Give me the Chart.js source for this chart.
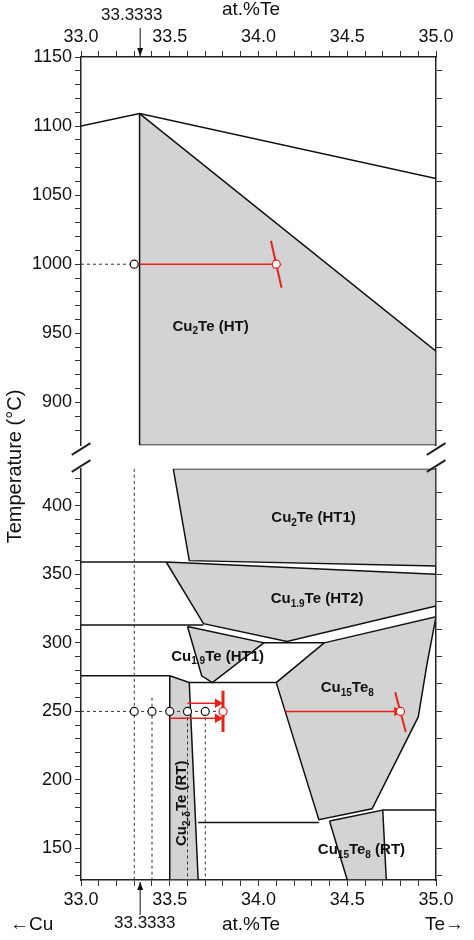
<!DOCTYPE html>
<html lang="en">
<head>
<meta charset="UTF-8">
<title>Cu-Te phase diagram</title>
<script src="https://cdn.jsdelivr.net/npm/chart.js"></script>
<style>
    body { margin: 0; background: #fff; font-family: 'Liberation Sans', Arial, sans-serif; }
    #wrap { position: relative; width: 474px; height: 940px; overflow: hidden; }
    canvas { position: absolute; left: 0; }
    #topChart { top: 0; }
    #botChart { top: 455px; }
    .txt { position: absolute; font-size: 18px; color: #111; white-space: nowrap; }
    .brk { position: absolute; width: 22px; height: 1.5px; background: #222; transform: rotate(-32deg); }
</style>
</head>
<body>
<div id="wrap">
    <canvas id="topChart" width="474" height="459"></canvas>
    <canvas id="botChart" width="474" height="485"></canvas>
    <div class="txt" style="left:222px;top:-2px;font-size:19px">at.%Te</div>
    <div class="txt" style="left:101px;top:5px;font-size:17px">33.3333</div>
    <div class="txt" style="left:10px;top:913px;font-size:19px">&larr;Cu</div>
    <div class="txt" style="left:114px;top:913px;font-size:17px">33.3333</div>
    <div class="txt" style="left:222px;top:913px;font-size:19px">at.%Te</div>
    <div class="txt" style="left:425px;top:913px;font-size:19px">Te&rarr;</div>
    <div class="txt" style="left:-62px;top:455px;font-size:20px;transform:rotate(-90deg)">Temperature (&deg;C)</div>
    <div class="brk" style="left:70px;top:448px"></div>
    <div class="brk" style="left:70px;top:465px"></div>
    <div class="brk" style="left:425px;top:448px"></div>
    <div class="brk" style="left:425px;top:465px"></div>
</div>
<script>
// ---- upper panel (high temperature) ----
const liquidus = [[33.0, 1100], [33.33, 1109], [35.0, 1062]];
const cu2teHT = [[33.33, 1109], [35.0, 937], [35.0, 869], [33.33, 869]];
const dash1000 = [[33.0, 1000], [33.3, 1000]];
const open1000 = [[33.3, 1000]];
const arrow1000 = [[33.33, 1000], [34.1, 1000]];
const red1000 = [[34.1, 1000]];
const tick1000 = [[34.07, 1017], [34.13, 983]];

// ---- lower panel (low temperature) ----
const cu2teHT1 = [[33.52, 427], [33.61, 360], [35.0, 356], [35.0, 427]];
const cu19teHT2 = [[33.48, 359], [35.0, 350], [35.0, 327], [34.16, 301], [33.69, 314]];
const cu19teHT1 = [[33.60, 312], [34.03, 300], [33.74, 271], [33.68, 276]];
const cu15te8 = [[34.37, 300], [35.0, 319], [34.95, 285], [34.90, 246], [34.64, 179], [34.34, 171], [34.10, 271]];
const cu2dTe = [[33.50, 276], [33.61, 271], [33.66, 127], [33.50, 127]];
const cu15te8RT = [[34.40, 170], [34.70, 178], [34.72, 127], [34.50, 127]];
const hLines = [
    [[33.0, 359], [33.48, 359]],
    [[33.0, 313], [33.69, 313]],
    [[33.0, 276], [33.50, 276]],
    [[33.61, 271], [34.10, 271]],
    [[34.03, 300], [34.37, 300]],
    [[33.66, 169], [34.34, 169]],
    [[34.70, 178], [35.0, 178]]
];
const dashV = [
    [[33.3, 427], [33.3, 127]],
    [[33.4, 260], [33.4, 127]],
    [[33.6, 250], [33.6, 127]],
    [[33.7, 250], [33.7, 127]]
];
const dash250 = [[33.0, 250], [33.8, 250]];
const open250 = [[33.3, 250], [33.4, 250], [33.5, 250], [33.6, 250], [33.7, 250]];
const red250 = [[33.8, 250], [34.8, 250]];
const arrowsRed = [
    [[33.6, 256], [33.77, 256]],
    [[33.5, 245], [33.77, 245]],
    [[34.15, 250], [34.78, 250]]
];
const redTicks = [
    [[33.8, 265], [33.8, 235]],
    [[34.77, 264], [34.83, 235]]
];

const pts = a => a.map(p => ({ x: p[0], y: p[1] }));
const closed = a => pts(a.concat([a[0]]));

function poly(a) {
    return { data: closed(a), showLine: true, fill: 'shape', backgroundColor: '#d3d3d3',
             borderColor: '#111', borderWidth: 1.5, pointRadius: 0, order: 5 };
}
function line(a, color, dash, w) {
    return { data: pts(a), showLine: true, fill: false, borderColor: color || '#111',
             borderDash: dash || [], borderWidth: w || 1.5, pointRadius: 0, order: 2 };
}
function arrow(a) {
    return { data: pts(a), showLine: true, fill: false, borderColor: '#e8221b', borderWidth: 1.5,
             pointStyle: 'triangle', pointRotation: 90, pointRadius: [0, 4],
             pointBackgroundColor: '#e8221b', pointBorderColor: '#e8221b', order: 1 };
}
function circles(a, color) {
    return { data: pts(a), showLine: false, pointRadius: 4, pointBackgroundColor: '#fff',
             pointBorderColor: color, pointBorderWidth: 1.2, order: 0 };
}

function labelPlugin(labels) {
    return {
        id: 'labels',
        afterDatasetsDraw(chart) {
            const c = chart.ctx, xs = chart.scales.x, ys = chart.scales.y;
            labels.forEach(l => {
                c.save();
                c.translate(xs.getPixelForValue(l.x), ys.getPixelForValue(l.y));
                if (l.rot) c.rotate(l.rot);
                let w = 0;
                l.parts.forEach(p => { c.font = p[1] ? 'bold 10px Liberation Sans' : 'bold 15px Liberation Sans'; w += c.measureText(p[0]).width; });
                let x = -w / 2;
                c.fillStyle = '#111';
                c.textBaseline = 'middle';
                l.parts.forEach(p => {
                    c.font = p[1] ? 'bold 10px Liberation Sans' : 'bold 15px Liberation Sans';
                    c.fillText(p[0], x, p[1] ? 5 : 0);
                    x += c.measureText(p[0]).width;
                });
                c.restore();
            });
        }
    };
}

const xTicks = { stepSize: 0.1, color: '#111', font: { size: 18, family: 'Liberation Sans' }, maxRotation: 0, autoSkip: false,
                 callback: v => Math.round(v * 10) % 5 === 0 ? v.toFixed(1) : '' };
const yTicks = { stepSize: 10, color: '#111', font: { size: 18, family: 'Liberation Sans' }, autoSkip: false,
                 callback: v => v % 50 === 0 ? v : '' };
const gridOpt = { drawOnChartArea: false, tickLength: 6, color: '#333' };
const border = { color: '#222', width: 1.5 };

function yBuild(lo, hi) {
    return s => { s.ticks = []; for (let v = lo; v <= hi; v += 10) s.ticks.push({ value: v }); };
}

function makeChart(id, dsets, xPos, yMin, yMax, t0, t1, pad, xh, labels, extra) {
    return new Chart(document.getElementById(id), {
        type: 'scatter',
        data: { datasets: dsets },
        options: {
            responsive: false, animation: false,
            layout: { padding: pad },
            plugins: { legend: { display: false }, tooltip: { enabled: false } },
            scales: {
                x: { type: 'linear', position: xPos, min: 33, max: 35, ticks: xTicks, grid: gridOpt, border: border,
                     afterFit: s => { s.height = xh; } },
                y: { min: yMin, max: yMax, ticks: yTicks, grid: gridOpt, border: border,
                     afterBuildTicks: yBuild(t0, t1), afterFit: s => { s.width = 81; } },
                y2: { position: 'right', min: yMin, max: yMax, ticks: { callback: () => '' }, grid: gridOpt, border: border,
                      afterBuildTicks: yBuild(t0, t1), afterFit: s => { s.width = 38; } }
            }
        },
        plugins: [labelPlugin(labels), extra]
    });
}

// arrow marking 33.3333 on the axes
function markPlugin(y0, y1) {
    return {
        id: 'mark',
        afterDraw(chart) {
            const c = chart.ctx, x = chart.scales.x.getPixelForValue(33.3333);
            c.save();
            c.strokeStyle = '#111'; c.fillStyle = '#111'; c.lineWidth = 1;
            c.beginPath(); c.moveTo(x, y0); c.lineTo(x, y1); c.stroke();
            const d = y1 > y0 ? 1 : -1;
            c.beginPath(); c.moveTo(x, y1); c.lineTo(x - 3, y1 - 8 * d); c.lineTo(x + 3, y1 - 8 * d); c.fill();
            c.restore();
        }
    };
}

makeChart('topChart', [
    circles(open1000, '#111'),
    circles(red1000, '#e8221b'),
    arrow(arrow1000),
    line(tick1000, '#e8221b', null, 2),
    line(dash1000, '#333', [3, 3], 1),
    line(liquidus),
    poly(cu2teHT)
], 'top', 869, 1150, 880, 1150, { top: 0, bottom: 2 }, 57,
   [{ x: 33.73, y: 955, parts: [['Cu'], ['2', 1], ['Te (HT)']] }],
   markPlugin(28, 56));

makeChart('botChart', [
    circles(open250, '#111'),
    circles([red250[0]], '#e8221b'),
    circles([red250[1]], '#e8221b'),
    ...arrowsRed.map(arrow),
    ...redTicks.map((t, i) => line(t, '#e8221b', null, i === 0 ? 3 : 2)),
    line(dash250, '#333', [3, 3], 1),
    ...dashV.map(d => line(d, '#333', [3, 3], 1)),
    ...hLines.map(h => line(h)),
    poly(cu2teHT1), poly(cu19teHT2), poly(cu19teHT1), poly(cu15te8), poly(cu2dTe), poly(cu15te8RT)
], 'bottom', 127, 427, 130, 420, { top: 1, bottom: 0 }, 60,
   [
    { x: 34.31, y: 391, parts: [['Cu'], ['2', 1], ['Te (HT1)']] },
    { x: 34.33, y: 332, parts: [['Cu'], ['1.9', 1], ['Te (HT2)']] },
    { x: 33.77, y: 290, parts: [['Cu'], ['1.9', 1], ['Te (HT1)']] },
    { x: 34.50, y: 267, parts: [['Cu'], ['15', 1], ['Te'], ['8', 1]] },
    { x: 34.58, y: 149, parts: [['Cu'], ['15', 1], ['Te'], ['8', 1], [' (RT)']] },
    { x: 33.57, y: 183, rot: -Math.PI / 2, parts: [['Cu'], ['2-\u03b4', 1], ['Te (RT)']] }
   ],
   markPlugin(460, 427));
</script>
</body>
</html>
